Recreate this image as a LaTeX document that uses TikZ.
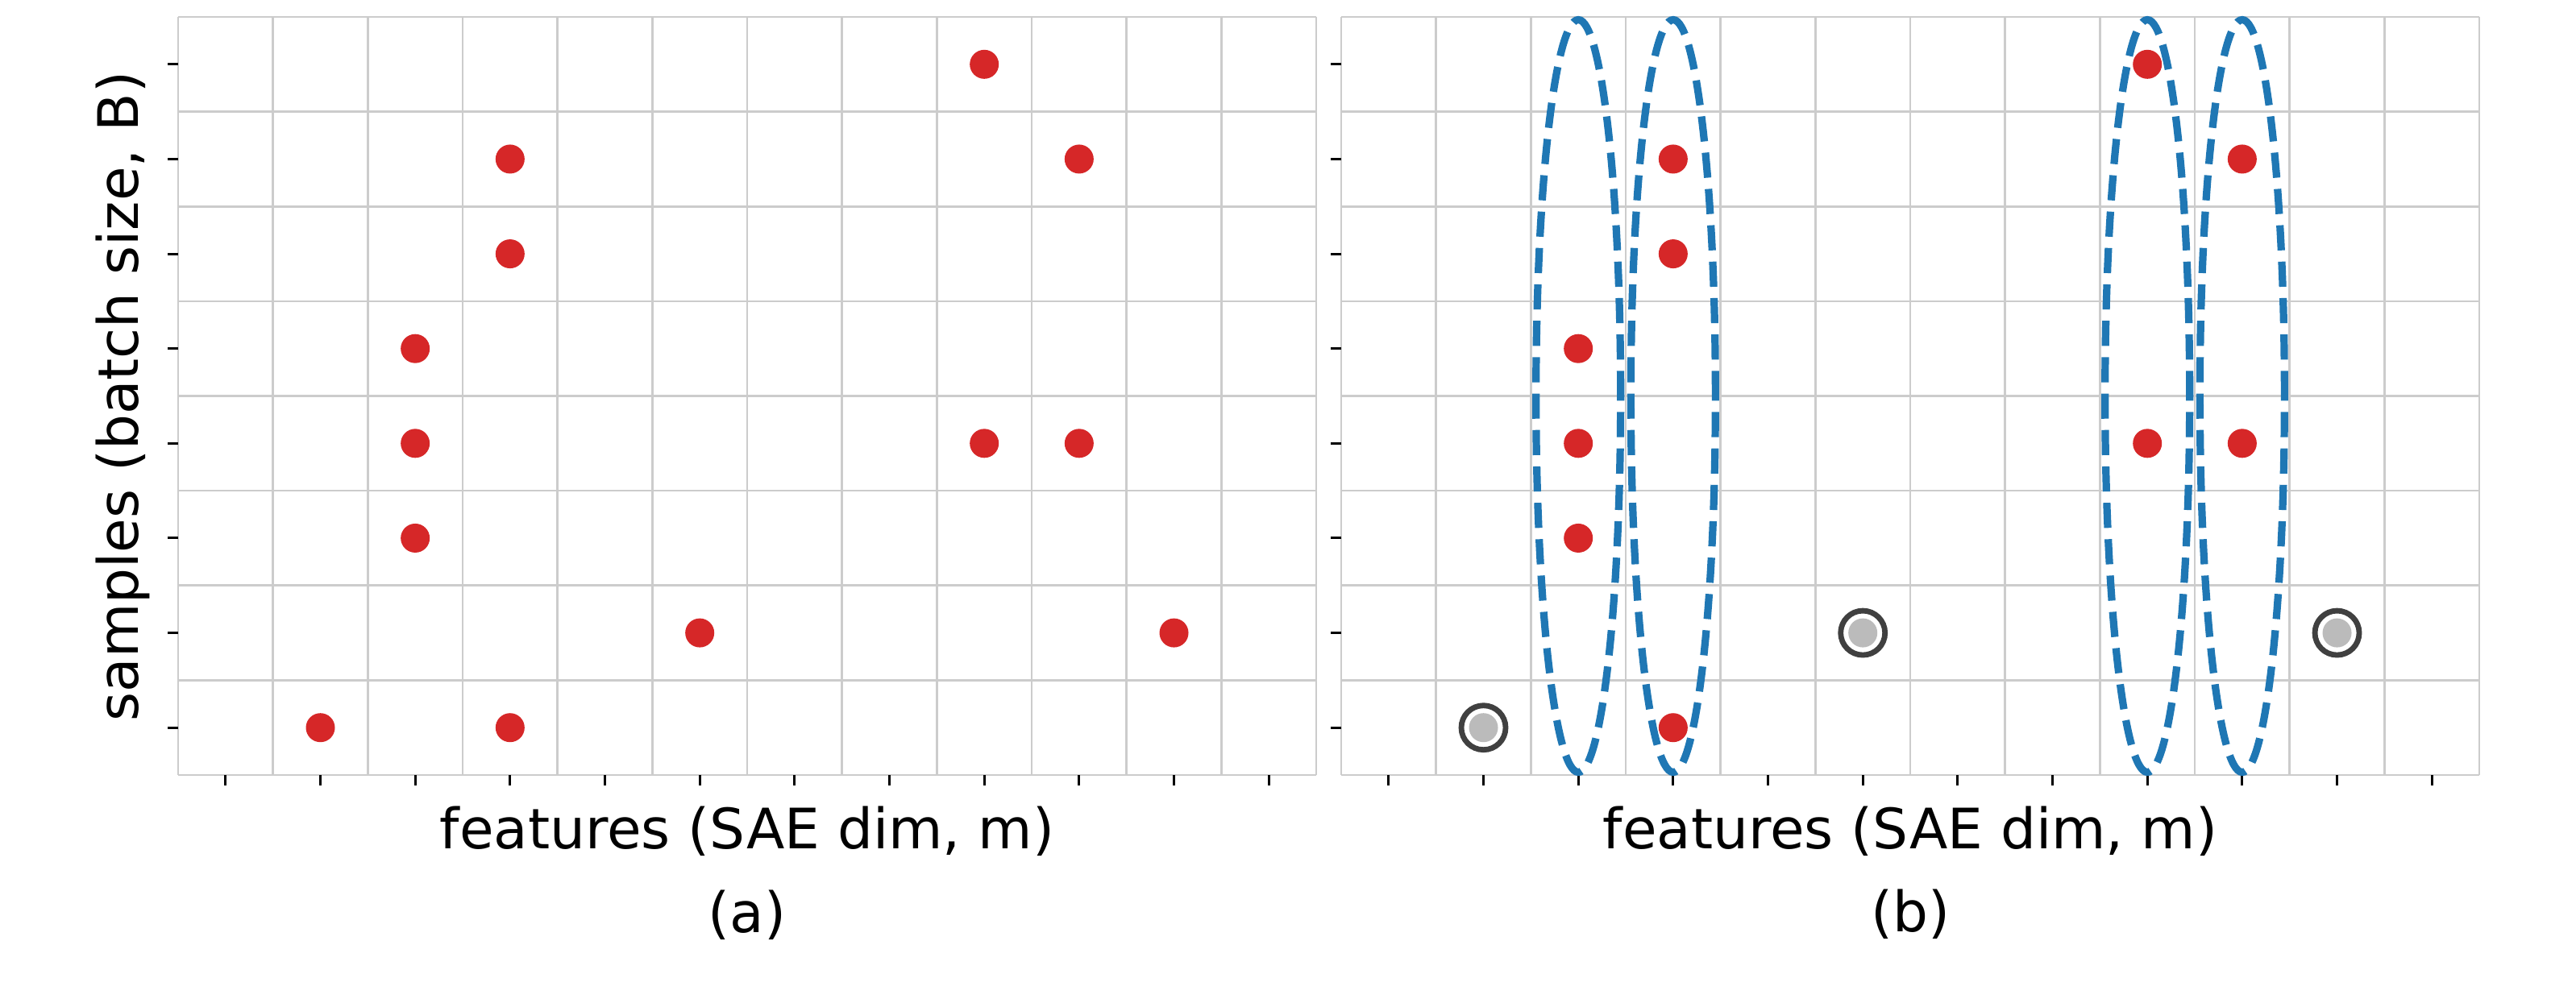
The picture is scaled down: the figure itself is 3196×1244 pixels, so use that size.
\documentclass[tikz,border=0pt]{standalone}
\usepackage{fontspec}
\setmainfont{DejaVu Sans}
\usetikzlibrary{shapes.geometric}
\definecolor{gridc}{HTML}{CCCCCC}
\definecolor{dotred}{HTML}{D62728}
\definecolor{dotgray}{HTML}{BBBBBB}
\definecolor{ringc}{HTML}{404040}
\definecolor{hullblue}{HTML}{1F77B4}
\begin{document}
\begin{tikzpicture}[x=0.25pt,y=-0.25pt,
  gridline/.style={draw=gridc,line width=0.65pt},
  tickmark/.style={draw=black,line width=0.75pt},
  reddot/.style={circle,fill=dotred,draw=none,minimum size=9pt,inner sep=0pt},
  ringdot/.style={circle,draw=ringc,line width=1.7pt,minimum size=13.75pt,inner sep=0pt,
    path picture={\fill[dotgray] (path picture bounding box.center) circle (4.5pt);}},
  hull/.style={ellipse,draw=hullblue,line width=2.3pt,dash pattern=on 7.8pt off 3.5pt,
    minimum width=26.25pt,minimum height=233.5pt,inner sep=0pt},
  lbl/.style={font=\fontsize{17.3pt}{20pt}\selectfont,inner sep=0pt}]
\useasboundingbox (0,0) rectangle (3196,1244);
\fill[white] (0,0) rectangle (3196,1244);

% ---------- panel (a) ----------
\begin{scope}[shift={(221,21)},x=29.4167pt,y=-29.40625pt]
  \foreach \c in {0,...,12} \draw[gridline] (\c,0) -- (\c,8);
  \foreach \r in {0,...,8} \draw[gridline] (0,\r) -- (12,\r);
  \foreach \c in {0,...,11} \draw[tickmark] (\c+0.5,8) -- ++(0pt,-3.25pt);
  \foreach \r in {0,...,7} \draw[tickmark] (0,\r+0.5) -- ++(-3.25pt,0pt);
  \foreach \c/\r [count=\i] in {8/0,3/1,9/1,3/2,2/3,2/4,8/4,9/4,2/5,5/6,10/6,1/7,3/7}
    \node[reddot] (a-\i) at (\c+0.5,\r+0.5) {};
\end{scope}

% ---------- panel (b) ----------
\begin{scope}[shift={(1664,21)},x=29.4167pt,y=-29.40625pt]
  \foreach \c in {0,...,12} \draw[gridline] (\c,0) -- (\c,8);
  \foreach \r in {0,...,8} \draw[gridline] (0,\r) -- (12,\r);
  \foreach \c in {0,...,11} \draw[tickmark] (\c+0.5,8) -- ++(0pt,-3.25pt);
  \foreach \r in {0,...,7} \draw[tickmark] (0,\r+0.5) -- ++(-3.25pt,0pt);
  \foreach \c/\r [count=\i] in {8/0,3/1,9/1,3/2,2/3,2/4,8/4,9/4,2/5,3/7}
    \node[reddot] (b-\i) at (\c+0.5,\r+0.5) {};
  \foreach \c/\r [count=\i] in {5/6,10/6,1/7}
    \node[ringdot] (b-g\i) at (\c+0.5,\r+0.5) {};
  \foreach \c [count=\i] in {2,3,8,9}
    \node[hull] (b-e\i) at (\c+0.5,4) {};
\end{scope}

% ---------- labels ----------
\node[lbl,rotate=90,anchor=base] (ylab) at (171,492) {samples (batch size, B)};
\node[lbl,anchor=base] (xlaba) at (927,1053) {features (SAE dim, m)};
\node[lbl,anchor=base] (xlabb) at (2370,1053) {features (SAE dim, m)};
\node[lbl,anchor=base] (capa) at (927,1157) {(a)};
\node[lbl,anchor=base] (capb) at (2370,1156) {(b)};
\end{tikzpicture}
\end{document}
